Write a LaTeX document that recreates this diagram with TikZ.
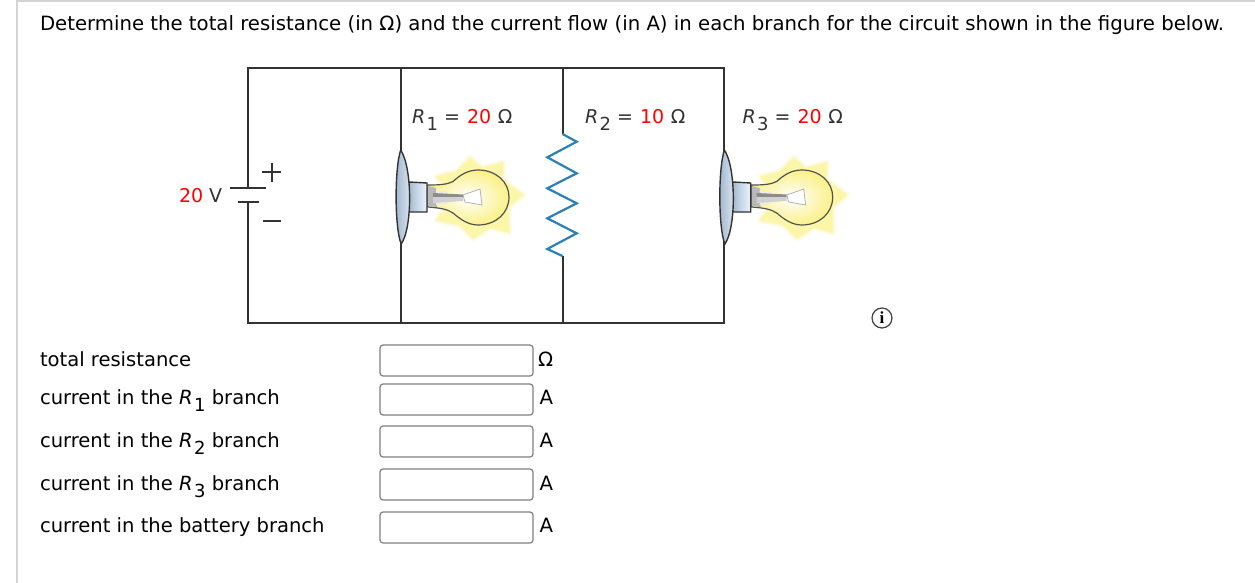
\documentclass[tikz,border=0pt]{standalone}
\usepackage{fontspec}
\setmainfont{DejaVu Sans}
\newfontfamily\serifi{Liberation Serif}
\definecolor{wirec}{HTML}{333333}
\definecolor{labelc}{HTML}{333333}
\definecolor{valred}{HTML}{FF0000}
\definecolor{resblue}{HTML}{2B80B9}
\definecolor{glowc}{HTML}{FCF6A8}
\definecolor{globec}{HTML}{FBF18A}
\definecolor{sockc}{HTML}{C3D6E8}
\definecolor{diskc}{HTML}{9DB3CC}
\definecolor{ruleg}{HTML}{D4D4D4}
\newcommand{\Rs}[1]{\textit{R}\kern1.5pt\raisebox{-7pt}{\fontsize{18}{20}\selectfont #1}{}}
\newcommand{\drawbulb}[1]{%
\begin{scope}[shift={(#1,0)}]
  \def\starpath{(436.7,176.7) -- (456.7,171.7) -- (470,157.7) -- (481.7,168.3) -- (503,162.7) -- (502.3,180) -- (523,195) -- (508.3,206.7) -- (509,232.3) -- (490,227.3) -- (473.3,238.3) -- (460,225) -- (436.7,220) -- (446.7,206.7) -- (446.7,188.3) -- cycle}
  \draw[glowc,opacity=.18,line width=7pt,line join=round] \starpath;
  \draw[glowc,opacity=.3,line width=4pt,line join=round] \starpath;
  \draw[glowc,opacity=.5,line width=1.5pt,line join=round] \starpath;
  \fill[glowc] \starpath;
  \path[inner color=white,outer color=globec,draw=wirec!85,line width=1.2pt]
    (428,185) .. controls (440,185) and (447,184.5) .. (453,181.5)
    .. controls (460,175) and (468,170) .. (478,170)
    .. controls (496,170) and (509,182) .. (509,197)
    .. controls (509,213) and (496,225) .. (478,225)
    .. controls (468,225) and (460,219) .. (453,213)
    .. controls (447,209) and (440,208) .. (428,207) -- cycle;
  \fill[black!28] (428,186) -- (436,188) -- (437,207) -- (428,206) -- cycle;
  \fill[black!8] (436,190) -- (447,192) -- (447,204) -- (436,205) -- cycle;
  \fill[black!45] (433,193) -- (463,194.5) -- (463,197.5) -- (433,197) -- cycle;
  \fill[black!18] (433,197) -- (463,197.5) -- (463,201) -- (433,203) -- cycle;
  \filldraw[fill=white,draw=black!30,line width=.8pt] (463,195) -- (480,189) -- (482,205) -- (465,202) -- cycle;
  \draw[wirec,line width=1.4pt,left color=sockc!80!black,right color=sockc!30,middle color=sockc]
    (409,182) -- (427,183) -- (427,212) -- (409,212) .. controls (406,200) and (406,194) .. (409,182) -- cycle;
  \draw[wirec,line width=1.4pt,left color=diskc,right color=sockc!45]
    (400.7,150) .. controls (394.5,168) and (394.5,228) .. (401.2,244)
    .. controls (412.5,228) and (412.5,168) .. (400.7,150) -- cycle;
\end{scope}}
\tikzset{
  wire/.style={draw=wirec,line width=2pt},
  plate/.style={draw=wirec,line width=2pt},
  txt/.style={inner sep=0pt,outer sep=0pt,anchor=base west,text=black,font=\fontsize{19.7}{24}\selectfont},
  qtxt/.style={txt,font=\fontsize{19.55}{24}\selectfont},
  circ/.style={inner sep=0pt,outer sep=0pt,anchor=base west,text=labelc,font=\fontsize{19}{24}\selectfont},
  ansbox/.style={draw=black!50,fill=white,line width=1.2pt,rounded corners=3pt,minimum width=153pt,minimum height=31pt,inner sep=0pt,outer sep=0pt,anchor=north west},
}
\begin{document}
\begin{tikzpicture}[x=1pt,y=-1pt]
\useasboundingbox (0,0) rectangle (1255,583);
\fill[white] (0,0) rectangle (1255,583);
% page rules
\coordinate (ruleA) at (17,583);
\coordinate (ruleB) at (17,1);
\coordinate (ruleC) at (1255,1);
\draw[ruleg,line width=1.4pt] (ruleA) -- (ruleB) -- (ruleC);
% circuit corners
\coordinate (tl) at (247.5,68.5);
\coordinate (t1) at (400.5,68.5);
\coordinate (t2) at (562.5,68.5);
\coordinate (tr) at (724.3,68.5);
\coordinate (bl) at (247.5,322.7);
\coordinate (b1) at (400.5,322.7);
\coordinate (b2) at (562.5,322.7);
\coordinate (br) at (724.3,322.7);
\coordinate (batp) at (247.5,188.3);
\coordinate (batn) at (247.5,201.7);
\coordinate (rtop) at (562.5,134);
\coordinate (rbot) at (562.5,256);
\draw[wire] (batp) -- (tl) -- (tr) -- (br) -- (bl) -- (batn);
\draw[wire] (t1) -- (b1);
\draw[wire] (t2) -- (rtop);
\draw[wire] (rbot) -- (b2);
% resistor
\draw[resblue,line width=2.2pt,line join=miter] (rtop) -- (576.7,141.7) -- (547.3,157.3) -- (576.7,173.3) -- (547.3,188.3) -- (576.7,203.3) -- (547.3,218.3) -- (576.7,233.3) -- (547.3,249) -- (rbot);
% battery
\coordinate (pl) at (230,188.3); \coordinate (pr) at (266,188.3);
\coordinate (nl) at (238,201.7); \coordinate (nr) at (259,201.7);
\draw[plate] (pl) -- (pr);
\draw[plate] (nl) -- (nr);
\coordinate (ph1) at (262,172); \coordinate (ph2) at (281,172);
\coordinate (pv1) at (271.5,162.5); \coordinate (pv2) at (271.5,181.5);
\coordinate (m1) at (263,221); \coordinate (m2) at (281,221);
\draw[plate] (ph1) -- (ph2);
\draw[plate] (pv1) -- (pv2);
\draw[plate] (m1) -- (m2);
% bulbs
\drawbulb{0}
\drawbulb{323.7}
% circuit labels
\node[circ] (lv) at (179,202) {\textcolor{valred}{20} V};
\node[circ] (lr1) at (412,124) {\Rs{1} =\kern1pt{} \textcolor{valred}{20}\kern.5pt{} Ω};
\node[circ] (lr2) at (585,124) {\Rs{2} =\kern1pt{} \textcolor{valred}{10}\kern.5pt{} Ω};
\node[circ] (lr3) at (742.5,124) {\Rs{3} =\kern1pt{} \textcolor{valred}{20}\kern.5pt{} Ω};
% text
\node[txt] (title) at (40,31) {Determine the total resistance (in Ω) and the current flow (in A) in each branch for the circuit shown in the figure below.};
\node[qtxt] (q0) at (40,366.5) {total resistance};
\node[qtxt] (q1) at (40,404.5) {current in the \Rs{1} branch};
\node[qtxt] (q2) at (40,447.5) {current in the \Rs{2} branch};
\node[qtxt] (q3) at (40,490.5) {current in the \Rs{3} branch};
\node[qtxt] (q4) at (40,532.5) {current in the battery branch};
\node[ansbox] (b0) at (380,345) {};
\node[ansbox] (b1x) at (380,384) {};
\node[ansbox] (b2x) at (380,426) {};
\node[ansbox] (b3x) at (380,469) {};
\node[ansbox] (b4x) at (380,512) {};
\node[txt] (u0) at (538,366.5) {Ω};
\node[txt] (u1) at (539.5,404.5) {A};
\node[txt] (u2) at (539.5,447.5) {A};
\node[txt] (u3) at (539.5,490.5) {A};
\node[txt] (u4) at (539.5,532.5) {A};
% info
\node[circle,draw=black!75,line width=1.2pt,minimum size=20pt,inner sep=0pt,font=\serifi\bfseries\fontsize{17}{17}\selectfont] (info) at (882,318) {i};
\end{tikzpicture}
\end{document}
